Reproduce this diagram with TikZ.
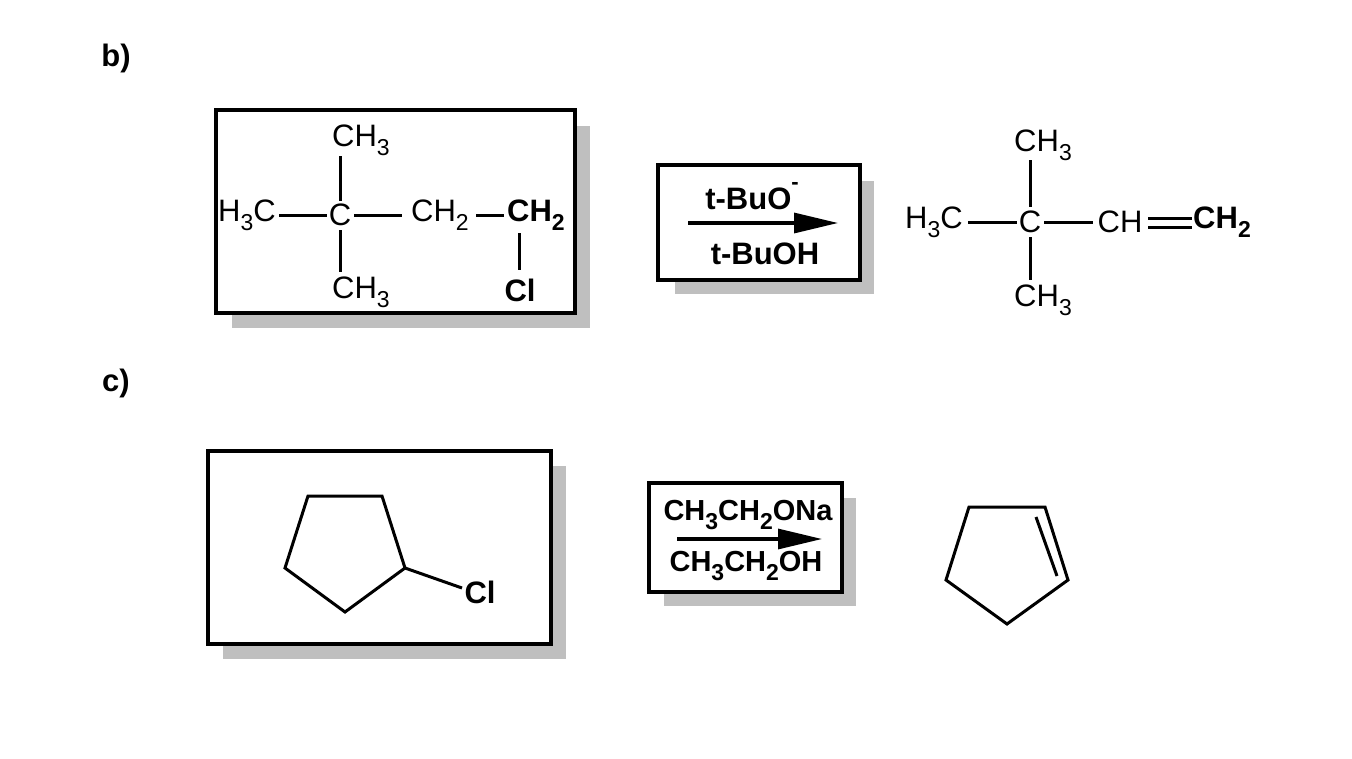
\documentclass[tikz,border=0pt]{standalone}
\usepackage{fontspec}
\setmainfont{Liberation Sans}
\usetikzlibrary{arrows.meta}
\newcommand{\sbs}[1]{\raisebox{-0.55ex}{\fontsize{23}{25}\selectfont #1}}
\begin{document}
\begin{tikzpicture}[x=1pt,y=-1pt,
  bx/.style={draw=black,line width=3.2pt,fill=white},
  sh/.style={fill=black!25,draw=none},
  bd/.style={line width=3pt,line cap=butt},
  lab/.style={inner sep=0pt,font=\fontsize{31}{34}\selectfont},
  blab/.style={inner sep=0pt,font=\fontsize{31}{34}\selectfont\bfseries},
  rarr/.style={line width=3.2pt,-{Triangle[length=44pt,width=20pt]}}]
\useasboundingbox (0,0) rectangle (1352,758);
\node[blab] (b) at (116,58) {b)};
\node[blab] (c) at (116,383) {c)};
% box 1
\fill[sh] (232,126) rectangle (590,328);
\draw[bx] (216,110) rectangle (575,313);
\node[lab] (c1) at (340,215) {C};
\node[lab,anchor=east] (m1) at (276,215) {H\sbs{3}C};
\node[lab] (t1) at (361,140) {CH\sbs{3}};
\node[lab] (u1) at (361,292) {CH\sbs{3}};
\node[lab] (a1) at (440,215) {CH\sbs{2}};
\node[blab] (a2) at (536,215) {CH\sbs{\bfseries 2}};
\node[blab] (cl1) at (520,290) {Cl};
\draw[bd] (279,215) -- (327,215);
\draw[bd] (354,215) -- (402,215);
\draw[bd] (476,215) -- (504,215);
\draw[bd] (340,156) -- (340,201);
\draw[bd] (340,230) -- (340,272);
\draw[bd] (519,233) -- (519,270);
% box 2
\fill[sh] (675,181) rectangle (874,294);
\draw[bx] (658,165) rectangle (860,280);
\node[blab] (r1) at (752,196) {t-BuO\raisebox{1.2ex}{\fontsize{22}{24}\selectfont -}};
\node[blab] (r2) at (765,254) {t-BuOH};
\coordinate (ar1s) at (688,223);
\coordinate (ar1e) at (838,223);
\draw[rarr] (ar1s) -- (ar1e);
% product 1
\node[lab] (c2) at (1030,222) {C};
\node[lab] (m2) at (934,222) {H\sbs{3}C};
\node[lab] (t2) at (1043,145) {CH\sbs{3}};
\node[lab] (u2) at (1043,300) {CH\sbs{3}};
\node[lab] (e1) at (1120,222) {CH};
\node[blab] (e2) at (1222,222) {CH\sbs{\bfseries 2}};
\draw[bd] (968,222) -- (1017,222);
\draw[bd] (1044,222) -- (1093,222);
\draw[bd] (1030,160) -- (1030,207);
\draw[bd] (1030,237) -- (1030,280);
\draw[bd] (1148,218) -- (1192,218);
\draw[bd] (1148,227) -- (1192,227);
% box 3
\fill[sh] (223,466) rectangle (566,659);
\draw[bx] (208,451) rectangle (551,644);
\draw[bd,line join=miter] (308,496) -- (382,496) -- (405,568) -- (345,612) -- (285,568) -- cycle;
\node[blab] (cl2) at (480,592) {Cl};
\coordinate (p5) at (405,568);
\draw[bd] (p5) -- (462,588);
% box 4
\fill[sh] (664,498) rectangle (856,606);
\draw[bx] (649,483) rectangle (842,592);
\node[blab,font=\fontsize{29}{32}\selectfont\bfseries] (r3) at (748,515) {CH\sbs{\bfseries 3}CH\sbs{\bfseries 2}ONa};
\node[blab,font=\fontsize{29}{32}\selectfont\bfseries] (r4) at (746,566) {CH\sbs{\bfseries 3}CH\sbs{\bfseries 2}OH};
\coordinate (ar2s) at (677,539);
\coordinate (ar2e) at (822,539);
\draw[rarr] (ar2s) -- (ar2e);
% cyclopentene
\draw[bd,line join=miter] (969,507) -- (1045,507) -- (1068,580) -- (1007,624) -- (946,580) -- cycle;
\draw[bd] (1036,517) -- (1057,576);
\end{tikzpicture}
\end{document}
